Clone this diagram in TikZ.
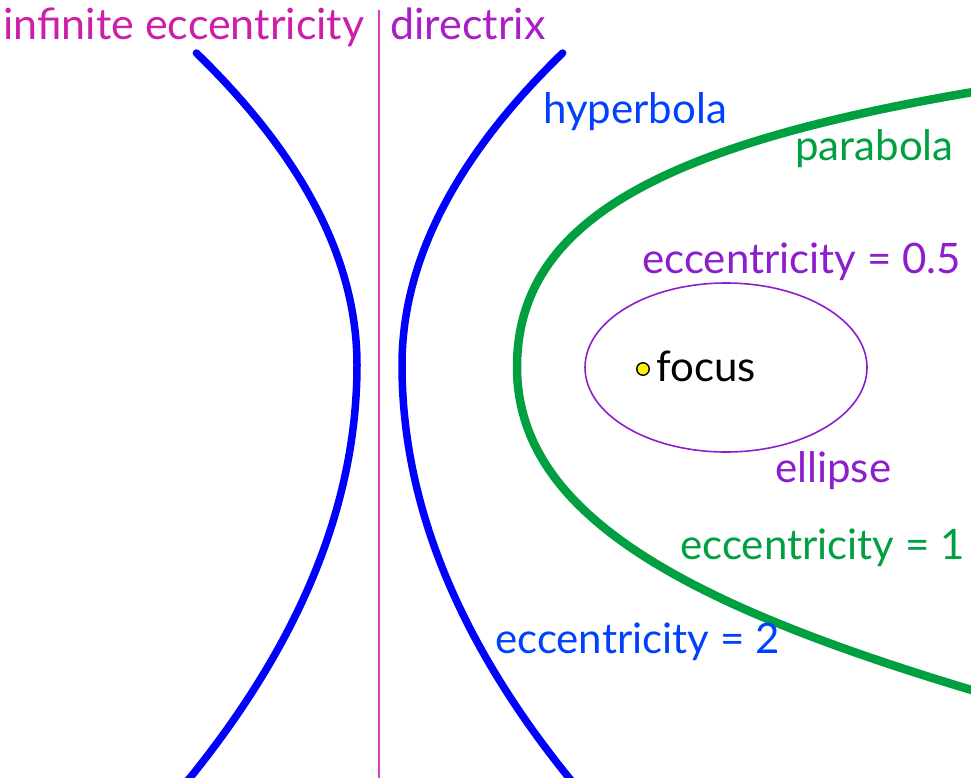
\documentclass[tikz,border=0pt]{standalone}
\usepackage{fontspec}
\setmainfont{Lato}
\usepackage{tikz}
\usetikzlibrary{positioning}
\definecolor{hypblue}{RGB}{0,0,255}
\definecolor{hyptxt}{RGB}{0,64,255}
\definecolor{pargreen}{RGB}{0,160,64}
\definecolor{ellpurple}{RGB}{140,30,205}
\definecolor{dirpurple}{RGB}{170,30,200}
\definecolor{infmag}{RGB}{205,30,170}
\tikzset{
  lab/.style={anchor=base west,inner sep=0pt,font=\fontsize{42}{50}\selectfont},
  hyp/.style={draw=hypblue,line width=7.5pt,line cap=round},
  par/.style={draw=pargreen,line width=8.5pt},
  ell/.style={draw=ellpurple,line width=1.6pt},
  dir/.style={draw=infmag!85!white,line width=1.6pt},
  pont/.style={circle,draw=black,fill=yellow,line width=1.4pt,inner sep=0pt,minimum size=12.5pt},
}
\begin{document}
\begin{tikzpicture}[x=1pt,y=-1pt]
  \useasboundingbox (0,0) rectangle (971,777);
  \clip (0,0) rectangle (971,777);
  % directrix
  \coordinate (dtop) at (379,10);
  \coordinate (dbot) at (379,790);
  \draw[dir] (dtop) -- (dbot);
  % hyperbola, both branches (wider above the vertex than below)
  \draw[hyp] plot[domain=53:365,samples=60]
      ({357-16.5*((\x-365)/100)*((\x-365)/100)},\x)
    -- plot[domain=365:795,samples=60]
      ({357-9.8*((\x-365)/100)*((\x-365)/100)},\x);
  \draw[hyp] plot[domain=53:365,samples=60]
      ({402+16.5*((\x-365)/100)*((\x-365)/100)},\x)
    -- plot[domain=365:795,samples=60]
      ({402+9.8*((\x-365)/100)*((\x-365)/100)},\x);
  % parabola
  \coordinate (ptop) at (985,90);
  \coordinate (pvert) at (517,367);
  \coordinate (pbot) at (985,694);
  \draw[par] (ptop) .. controls (671,142) and (517,217) .. (pvert)
    .. controls (517,517) and (691,607) .. (pbot);
  % ellipse and focus
  \draw[ell] (726,367.5) ellipse [x radius=141,y radius=84.5];
  \node[pont] (focus) at (643,369) {};
  \node[lab,anchor=base west] (ftxt) at (656,381) {focus};
  % labels
  \node[lab,infmag,font=\fontsize{43}{50}\selectfont] (inf) at (3,39) {infinite eccentricity};
  \node[lab,dirpurple,font=\fontsize{43}{50}\selectfont] (dirx) at (390,39) {directrix};
  \node[lab,hyptxt] (hyp) at (543,123) {hyperbola};
  \node[lab,pargreen] (parb) at (795,160) {parabola};
  \node[lab,ellpurple] (e05) at (642,273) {eccentricity = 0.5};
  \node[lab,ellpurple] (ellp) at (775,482) {ellipse};
  \node[lab,pargreen] (e1) at (680,559) {eccentricity = 1};
  \node[lab,hyptxt] (e2) at (495,653) {eccentricity = 2};
\end{tikzpicture}
\end{document}
